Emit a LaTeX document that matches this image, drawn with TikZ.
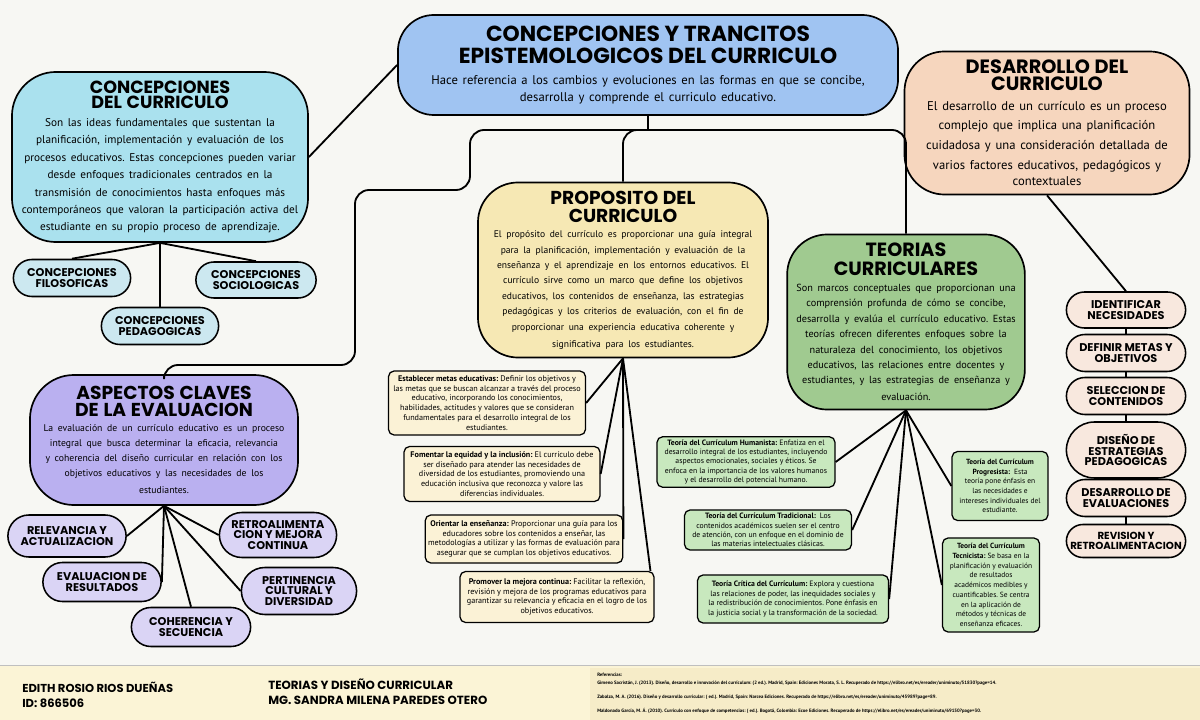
\documentclass[tikz,border=0pt]{standalone}
\usepackage{fontspec}
\setmainfont{PT Sans}
\newfontfamily\handfont{Poppins}
\usetikzlibrary{shapes.misc}
\frenchspacing

\definecolor{fondo}{RGB}{247,247,243}
\definecolor{azul}{RGB}{160,196,242}
\definecolor{celeste}{RGB}{170,225,238}
\definecolor{celesteclaro}{RGB}{204,232,240}
\definecolor{lila}{RGB}{186,176,240}
\definecolor{lilaclaro}{RGB}{218,212,245}
\definecolor{crema}{RGB}{246,232,180}
\definecolor{cremaclaro}{RGB}{251,242,214}
\definecolor{verde}{RGB}{160,202,144}
\definecolor{verdeclaro}{RGB}{200,232,190}
\definecolor{durazno}{RGB}{246,214,190}
\definecolor{duraznoclaro}{RGB}{248,232,222}
\definecolor{pie}{RGB}{251,244,214}
\definecolor{piereferencias}{RGB}{246,236,200}

\newcommand\titulo[2]{\handfont\bfseries\fontsize{#1}{#2}\selectfont}
\newcommand\texto[2]{\normalfont\fontsize{#1}{#2}\selectfont}

\begin{document}
\begin{tikzpicture}[x=0.025cm, y=-0.025cm,
  caja/.style={draw=black, line width=1.2pt, align=center, inner sep=2pt},
  pastilla/.style={draw=black, line width=1.1pt, shape=rounded rectangle, align=center, inner sep=1pt, font=\titulo{8}{7.2}},
  tarjeta/.style={draw=black, line width=0.9pt, rounded corners=4pt, align=center, inner sep=2pt, font=\texto{5.8}{6.9}},
  linea/.style={line width=1.3pt}]

  % fondo y pie de pagina
  \fill[fondo] (0,0) rectangle (1200,720);
  \useasboundingbox (0,0) rectangle (1200,720);
  \fill[pie] (0,665) rectangle (1200,720);
  \draw[black!25] (0,665) -- (1200,665);
  \fill[piereferencias] (590,668) rectangle (1200,720);

  % nodo central
  \node[caja, fill=azul, minimum width=12.5cm, minimum height=2.5cm, rounded corners=0.9cm, text width=12cm] (central) at (648,65)
    {{\titulo{15.5}{15.6}CONCEPCIONES Y TRANCITOS\\EPISTEMOLOGICOS DEL CURRICULO\par}
     \texto{9}{15}Hace referencia a los cambios y evoluciones en las formas en que se concibe,\\desarrolla y comprende el curriculo educativo.};

  % concepciones del curriculo
  \node[caja, fill=celeste, minimum width=7.4cm, minimum height=4.25cm, rounded corners=1.1cm, text width=7cm] (concepciones) at (160,157)
    {{\titulo{12.5}{10.9}CONCEPCIONES\\DEL CURRICULO\par}
     \texto{8}{12.4}Son las ideas fundamentales que sustentan la\\planificación, implementación y evaluación de los\\procesos educativos. Estas concepciones pueden variar\\desde enfoques tradicionales centrados en la\\transmisión de conocimientos hasta enfoques más\\contemporáneos que valoran la participación activa del\\estudiante en su propio proceso de aprendizaje.};
  \node[pastilla, fill=celesteclaro, minimum width=3cm, minimum height=0.925cm] (filosoficas) at (72,278) {CONCEPCIONES\\FILOSOFICAS};
  \node[pastilla, fill=celesteclaro, minimum width=3.075cm, minimum height=0.9cm] (sociologicas) at (256,280) {CONCEPCIONES\\SOCIOLOGICAS};
  \node[pastilla, fill=celesteclaro, minimum width=3cm, minimum height=0.925cm] (pedagogicas) at (160,326) {CONCEPCIONES\\PEDAGOGICAS};

  % aspectos claves de la evaluacion
  \node[caja, fill=lila, minimum width=6.7cm, minimum height=3.25cm, rounded corners=1.1cm, text width=6.4cm] (aspectos) at (164,440)
    {{\titulo{13.3}{12.2}ASPECTOS CLAVES\\DE LA EVALUACION\par}
     \texto{6.9}{10.7}La evaluación de un currículo educativo es un proceso\\integral que busca determinar la eficacia, relevancia\\y coherencia del diseño curricular en relación con los\\objetivos educativos y las necesidades de los\\estudiantes.};
  \node[pastilla, fill=lilaclaro, minimum width=3.025cm, minimum height=1.05cm] (relevancia) at (67,536) {RELEVANCIA Y\\ACTUALIZACION};
  \node[pastilla, fill=lilaclaro, minimum width=3.025cm, minimum height=0.975cm] (resultados) at (102,582) {EVALUACION DE\\RESULTADOS};
  \node[pastilla, fill=lilaclaro, minimum width=3.05cm, minimum height=0.975cm] (coherencia) at (191,627) {COHERENCIA Y\\SECUENCIA};
  \node[pastilla, fill=lilaclaro, minimum width=3cm, minimum height=1.125cm] (retroalimentacion) at (278,535) {RETROALIMENTA\\CION Y MEJORA\\CONTINUA};
  \node[pastilla, fill=lilaclaro, minimum width=2.95cm, minimum height=1.175cm] (pertinencia) at (299,591) {PERTINENCIA\\CULTURAL Y\\DIVERSIDAD};

  % proposito del curriculo
  \node[caja, fill=crema, minimum width=7.25cm, minimum height=4.375cm, rounded corners=1cm, text width=7cm] (proposito) at (623,270)
    {{\titulo{13.3}{12.8}PROPOSITO DEL\\CURRICULO\par}
     \texto{6.8}{11}El propósito del currículo es proporcionar una guía integral\\para la planificación, implementación y evaluación de la\\enseñanza y el aprendizaje en los entornos educativos. El\\currículo sirve como un marco que define los objetivos\\educativos, los contenidos de enseñanza, las estrategias\\pedagógicas y los criterios de evaluación, con el fin de\\proporcionar una experiencia educativa coherente y\\significativa para los estudiantes.};
  \node[tarjeta, fill=cremaclaro, minimum width=4.925cm, minimum height=1.6cm] (metas) at (487,403)
    {\textbf{Establecer metas educativas:} Definir los objetivos y\\las metas que se buscan alcanzar a través del proceso\\educativo, incorporando los conocimientos,\\habilidades, actitudes y valores que se consideran\\fundamentales para el desarrollo integral de los\\estudiantes.};
  \node[tarjeta, fill=cremaclaro, minimum width=4.9cm, minimum height=1.375cm] (equidad) at (502,474)
    {\textbf{Fomentar la equidad y la inclusión:} El currículo debe\\ser diseñado para atender las necesidades de\\diversidad de los estudiantes, promoviendo una\\educación inclusiva que reconozca y valore las\\diferencias individuales.};
  \node[tarjeta, fill=cremaclaro, minimum width=4.875cm, minimum height=1.2cm] (ensenanza) at (524,539)
    {\textbf{Orientar la enseñanza:} Proporcionar una guía para los\\educadores sobre los contenidos a enseñar, las\\metodologías a utilizar y las formas de evaluación para\\asegurar que se cumplan los objetivos educativos.};
  \node[tarjeta, fill=cremaclaro, minimum width=4.85cm, minimum height=1.275cm] (mejora) at (557,597)
    {\textbf{Promover la mejora continua:} Facilitar la reflexión,\\revisión y mejora de los programas educativos para\\garantizar su relevancia y eficacia en el logro de los\\objetivos educativos.};

  % teorias curriculares
  \node[caja, fill=verde, minimum width=5.925cm, minimum height=4.375cm, rounded corners=1cm, text width=5.8cm] (teorias) at (906,322)
    {{\titulo{13.6}{13.5}TEORIAS\\CURRICULARES\par}
     \texto{7.3}{11}Son marcos conceptuales que proporcionan una\\comprensión profunda de cómo se concibe,\\desarrolla y evalúa el currículo educativo. Estas\\teorías ofrecen diferentes enfoques sobre la\\naturaleza del conocimiento, los objetivos\\educativos, las relaciones entre docentes y\\estudiantes, y las estrategias de enseñanza y\\evaluación.};
  \node[tarjeta, fill=verdeclaro, minimum width=4.45cm, minimum height=1.25cm, font=\texto{5.5}{6.7}] (humanista) at (746,462)
    {\textbf{Teoría del Currículum Humanista:} Enfatiza en el\\desarrollo integral de los estudiantes, incluyendo\\aspectos emocionales, sociales y éticos. Se\\enfoca en la importancia de los valores humanos\\y el desarrollo del potencial humano.};
  \node[tarjeta, fill=verdeclaro, minimum width=4.175cm, minimum height=1cm, font=\texto{5.5}{6.7}] (tradicional) at (768,530)
    {\textbf{Teoría del Currículum Tradicional:}~ Los\\contenidos académicos suelen ser el centro\\de atención, con un enfoque en el dominio de\\las materias intelectuales clásicas.};
  \node[tarjeta, fill=verdeclaro, minimum width=4.775cm, minimum height=1.2cm, font=\texto{5.5}{6.7}] (critica) at (793,599)
    {\textbf{Teoría Crítica del Currículum:} Explora y cuestiona\\las relaciones de poder, las inequidades sociales y\\la redistribución de conocimientos. Pone énfasis en\\la justicia social y la transformación de la sociedad.};
  \node[tarjeta, fill=verdeclaro, minimum width=2.4cm, minimum height=1.725cm, font=\texto{5.3}{6.9}] (progresista) at (1000,486)
    {\textbf{Teoría del Currículum}\\\textbf{Progresista:}~ Esta\\teoría pone énfasis en\\las necesidades e\\intereses individuales del\\estudiante.};
  \node[tarjeta, fill=verdeclaro, minimum width=2.425cm, minimum height=2.35cm, font=\texto{5.3}{6.9}] (tecnicista) at (991,585)
    {\textbf{Teoría del Currículum}\\\textbf{Tecnicista:} Se basa en la\\planificación y evaluación\\de resultados\\académicos medibles y\\cuantificables. Se centra\\en la aplicación de\\métodos y técnicas de\\enseñanza eficaces.};

  % desarrollo del curriculo
  \node[caja, fill=durazno, minimum width=7.125cm, minimum height=3.575cm, rounded corners=1cm, text width=6.8cm] (desarrollo) at (1047,123)
    {{\titulo{13.7}{12.2}DESARROLLO DEL\\CURRICULO\par}
     \texto{9}{13.9}El desarrollo de un currículo es un proceso\\complejo que implica una planificación\\cuidadosa y una consideración detallada de\\varios factores educativos, pedagógicos y\\contextuales};
  \node[pastilla, fill=duraznoclaro, minimum width=3.05cm, minimum height=0.9cm] (necesidades) at (1126,310) {IDENTIFICAR\\NECESIDADES};
  \node[pastilla, fill=duraznoclaro, minimum width=3.05cm, minimum height=0.925cm] (objetivos) at (1126,353) {DEFINIR METAS Y\\OBJETIVOS};
  \node[pastilla, fill=duraznoclaro, minimum width=3.05cm, minimum height=0.925cm] (contenidos) at (1126,396) {SELECCION DE\\CONTENIDOS};
  \node[pastilla, fill=duraznoclaro, minimum width=3.05cm, minimum height=1.4cm] (estrategias) at (1126,450) {DISEÑO DE\\ESTRATEGIAS\\PEDAGOGICAS};
  \node[pastilla, fill=duraznoclaro, minimum width=3.05cm, minimum height=0.925cm] (evaluaciones) at (1126,498) {DESARROLLO DE\\EVALUACIONES};
  \node[pastilla, fill=duraznoclaro, minimum width=3.05cm, minimum height=0.825cm, font=\titulo{7.3}{7.2}] (revision) at (1126,541) {REVISION Y\\RETROALIMENTACION};

  % conectores
  \coordinate (tronco) at (648,130);
  \coordinate (codoA) at (470,190);
  \coordinate (codoB) at (355,365);
  \draw[linea] (central.south) -- (tronco);
  \draw[linea, rounded corners=10pt] (tronco) -| (proposito.north);
  \draw[linea, rounded corners=10pt] (tronco) -| (teorias.north);
  \draw[linea, rounded corners=10pt] (tronco) -| (codoA) -| (codoB) -| (aspectos.north);
  \draw[linea] (concepciones.east) -- (central.west);
  \foreach \hijo in {filosoficas, sociologicas, pedagogicas}
    \draw[linea] (concepciones.south) -- (\hijo.north);
  \draw[linea] (aspectos.south) -- (relevancia.east);
  \draw[linea] (aspectos.south) -- (resultados.east);
  \draw[linea] (aspectos.south) -- (coherencia.north);
  \draw[linea] (aspectos.south) -- (retroalimentacion.west);
  \draw[linea] (aspectos.south) -- (pertinencia.west);
  \foreach \hijo in {metas, equidad, ensenanza}
    \draw[linea] (proposito.south) -- (\hijo.east);
  \draw[linea] (proposito.south) -- ([xshift=-3pt]mejora.north east);
  \foreach \hijo in {humanista, tradicional, critica}
    \draw[linea] (teorias.south) -- (\hijo.east);
  \foreach \hijo in {progresista, tecnicista}
    \draw[linea] (teorias.south) -- (\hijo.west);
  \draw[linea] (desarrollo.south) -- (necesidades.north);
  \draw[linea] (necesidades.south) -- (objetivos.north);
  \draw[linea] (objetivos.south) -- (contenidos.north);
  \draw[linea] (contenidos.south) -- (estrategias.north);
  \draw[linea] (estrategias.south) -- (evaluaciones.north);
  \draw[linea] (evaluaciones.south) -- (revision.north);

  % datos del pie
  \node[anchor=west, align=left, inner sep=0pt, font=\titulo{8.2}{10.7}] (autora) at (22,695) {EDITH ROSIO RIOS DUEÑAS\\ID: 866506};
  \node[anchor=west, align=left, inner sep=0pt, font=\titulo{8.4}{10.7}] (curso) at (268,692) {TEORIAS Y DISEÑO CURRICULAR\\MG. SANDRA MILENA PAREDES OTERO};
  \node[anchor=north west, align=left, inner sep=0pt, font=\texto{3.4}{5.7}\bfseries] (referencias) at (597,673)
    {Referencias:\\Gimeno Sacristán, J. (2013). Diseño, desarrollo e innovación del currículum: (2 ed.). Madrid, Spain: Ediciones Morata, S. L. Recuperado de https://elibro.net/es/ereader/uniminuto/51830?page=14.\\[4.3pt]Zabalza, M. A. (2016). Diseño y desarrollo curricular: ( ed.). Madrid, Spain: Narcea Ediciones. Recuperado de https://elibro.net/es/ereader/uniminuto/45989?page=89.\\[4.3pt]Maldonado García, M. Á. (2010). Currículo con enfoque de competencias: ( ed.). Bogotá, Colombia: Ecoe Ediciones. Recuperado de https://elibro.net/es/ereader/uniminuto/69150?page=30.};

\end{tikzpicture}
\end{document}
